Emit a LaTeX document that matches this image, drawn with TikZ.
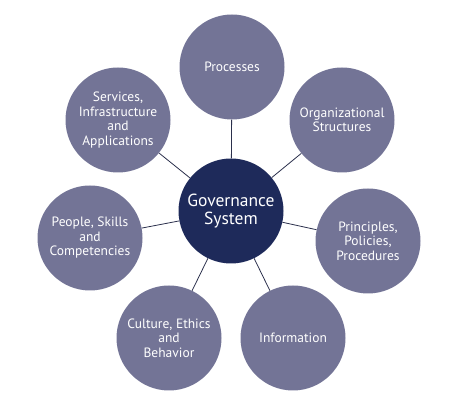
\documentclass[tikz,border=0pt]{standalone}
\usepackage{fontspec}
\setmainfont{PT Sans}
\definecolor{outerfill}{HTML}{737496}
\definecolor{centerfill}{HTML}{1E2A5A}
\definecolor{linkcol}{HTML}{2B304C}

\begin{document}
\begin{tikzpicture}[x=1pt, y=1pt, every node/.style={circle, fill=outerfill, text=white, minimum size=105pt, inner sep=0pt, align=center, font=\fontsize{13.5}{14.5}\selectfont}]
\useasboundingbox (0,0) rectangle (474,409);
\node[fill=centerfill, font=\fontsize{17.5}{18}\selectfont] (GS) at (231,198) {Governance\\System};
\node (E1) at (232,342) {Processes};
\node (E2) at (342,289) {Organizational\\Structures};
\node (E3) at (368,168) {Principles,\\Policies,\\Procedures};
\node (E4) at (293,71) {Information};
\node (E5) at (169,71) {Culture, Ethics\\and\\Behavior};
\node (E6) at (90,171) {People, Skills\\and\\Competencies};
\node (E7) at (118,289) {Services,\\Infrastructure\\and\\Applications};
\draw[linkcol, line width=0.8pt] (GS) -- (E1);
\draw[linkcol, line width=0.8pt] (GS) -- (E2);
\draw[linkcol, line width=0.8pt] (GS) -- (E3);
\draw[linkcol, line width=0.8pt] (GS) -- (E4);
\draw[linkcol, line width=0.8pt] (GS) -- (E5);
\draw[linkcol, line width=0.8pt] (GS) -- (E6);
\draw[linkcol, line width=0.8pt] (GS) -- (E7);
\end{tikzpicture}
\end{document}
